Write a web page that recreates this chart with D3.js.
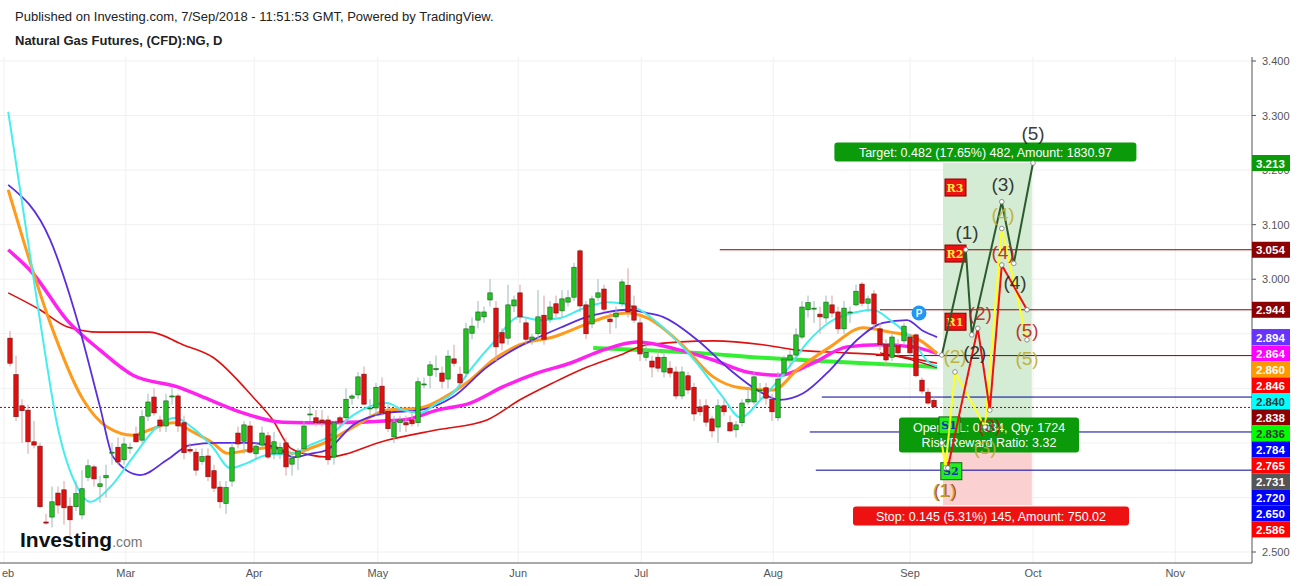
<!DOCTYPE html>
<html><head><meta charset="utf-8">
<script src="https://cdn.jsdelivr.net/npm/d3@7"></script>
<style>body{margin:0;background:#fff;font-family:Arial,"Liberation Sans",sans-serif}</style>
</head><body><svg id="c" width="1299" height="586"></svg>
<script>
// ---------- DATA ----------
const monthTicks=[["eb",-1],["Mar",19.3],["Apr",40.7],["May",61.3],["Jun",84.7],["Jul",105.2],["Aug",127.2],["Sep",150],["Oct",170.5],["Nov",194.2]];
const priceTicks=[2.5,2.6,2.7,2.8,2.9,3.0,3.1,3.2,3.3,3.4];
// [open, high, low, close] per trading day
const candles=[[2.892,2.905,2.84,2.846],[2.825,2.86,2.74,2.748],[2.768,2.78,2.70,2.759],[2.760,2.77,2.68,2.702],[2.702,2.74,2.69,2.696],[2.694,2.70,2.58,2.583],[2.555,2.57,2.55,2.553],[2.564,2.62,2.545,2.592],[2.608,2.62,2.57,2.586],[2.614,2.63,2.55,2.581],
[2.584,2.60,2.53,2.559],[2.583,2.63,2.575,2.607],[2.568,2.65,2.56,2.616],[2.637,2.67,2.63,2.658],[2.656,2.66,2.62,2.634],[2.620,2.64,2.59,2.625],[2.636,2.66,2.60,2.640],[2.683,2.70,2.66,2.683],[2.692,2.71,2.66,2.665],[2.669,2.71,2.66,2.698],
[2.692,2.70,2.68,2.692],[2.716,2.73,2.70,2.702],[2.705,2.76,2.70,2.748],[2.749,2.79,2.74,2.775],[2.784,2.80,2.75,2.755],[2.742,2.75,2.72,2.731],[2.731,2.79,2.72,2.777],[2.786,2.80,2.77,2.786],[2.786,2.79,2.72,2.731],[2.737,2.75,2.67,2.682],
[2.688,2.70,2.68,2.685],[2.683,2.69,2.64,2.650],[2.666,2.69,2.66,2.675],[2.676,2.69,2.63,2.638],[2.649,2.66,2.61,2.617],[2.619,2.63,2.58,2.592],[2.589,2.63,2.57,2.618],[2.630,2.70,2.62,2.691],[2.718,2.73,2.69,2.698],[2.703,2.74,2.68,2.733],
[2.731,2.74,2.68,2.683],[2.680,2.70,2.67,2.694],[2.696,2.73,2.69,2.718],[2.713,2.72,2.67,2.674],[2.680,2.72,2.67,2.702],[2.680,2.70,2.67,2.692],[2.700,2.71,2.64,2.656],[2.661,2.68,2.64,2.672],[2.674,2.69,2.65,2.685],[2.689,2.74,2.68,2.731],
[2.753,2.77,2.74,2.753],[2.746,2.76,2.73,2.737],[2.742,2.76,2.73,2.737],[2.742,2.75,2.66,2.669],[2.674,2.74,2.66,2.737],[2.746,2.75,2.73,2.738],[2.746,2.80,2.74,2.780],[2.782,2.79,2.77,2.786],[2.788,2.83,2.78,2.821],[2.826,2.84,2.77,2.771],
[2.764,2.78,2.75,2.764],[2.764,2.81,2.75,2.802],[2.804,2.82,2.75,2.755],[2.758,2.77,2.72,2.726],[2.711,2.75,2.70,2.737],[2.737,2.75,2.72,2.742],[2.737,2.75,2.72,2.733],[2.742,2.76,2.73,2.735],[2.737,2.82,2.73,2.812],[2.808,2.82,2.80,2.808],
[2.824,2.85,2.80,2.843],[2.834,2.86,2.82,2.836],[2.828,2.84,2.80,2.813],[2.817,2.87,2.80,2.859],[2.854,2.88,2.84,2.846],[2.826,2.84,2.80,2.810],[2.828,2.92,2.82,2.909],[2.901,2.93,2.89,2.914],[2.925,2.96,2.91,2.940],[2.931,2.95,2.92,2.940],
[2.962,3.00,2.95,2.975],[2.947,2.96,2.85,2.876],[2.902,2.91,2.87,2.883],[2.892,2.99,2.88,2.953],[2.951,2.97,2.94,2.962],[2.975,2.99,2.92,2.931],[2.920,2.93,2.88,2.890],[2.889,2.90,2.88,2.894],[2.900,2.98,2.89,2.931],[2.934,2.97,2.88,2.890],
[2.927,2.96,2.92,2.949],[2.955,2.97,2.93,2.938],[2.942,2.98,2.93,2.964],[2.958,2.98,2.95,2.966],[2.967,3.03,2.96,3.022],[3.052,3.055,2.94,2.951],[2.953,2.96,2.89,2.900],[2.918,2.97,2.91,2.964],[2.967,3.00,2.96,2.975],[2.982,2.99,2.94,2.945],
[2.927,2.94,2.90,2.922],[2.931,2.95,2.91,2.938],[2.955,3.00,2.95,2.995],[2.989,3.02,2.93,2.940],[2.951,2.97,2.92,2.925],[2.920,2.93,2.85,2.863],[2.857,2.88,2.85,2.866],[2.850,2.86,2.82,2.839],[2.857,2.87,2.83,2.837],[2.830,2.87,2.82,2.857],
[2.837,2.85,2.82,2.828],[2.830,2.84,2.78,2.786],[2.786,2.84,2.78,2.830],[2.823,2.83,2.79,2.797],[2.802,2.81,2.74,2.753],[2.766,2.78,2.75,2.757],[2.768,2.78,2.73,2.738],[2.744,2.75,2.71,2.722],[2.729,2.78,2.70,2.768],[2.768,2.78,2.75,2.757],
[2.737,2.75,2.72,2.722],[2.724,2.74,2.71,2.733],[2.737,2.78,2.73,2.773],[2.775,2.80,2.77,2.780],[2.775,2.83,2.77,2.821],[2.797,2.81,2.78,2.797],[2.801,2.81,2.77,2.782],[2.780,2.79,2.74,2.757],[2.746,2.83,2.74,2.817],[2.828,2.86,2.82,2.854],
[2.852,2.87,2.84,2.861],[2.861,2.91,2.85,2.898],[2.894,2.96,2.89,2.949],[2.944,2.97,2.93,2.957],[2.947,2.96,2.92,2.947],[2.936,2.95,2.90,2.931],[2.929,2.97,2.92,2.958],[2.953,2.97,2.93,2.938],[2.940,2.95,2.90,2.909],[2.909,2.96,2.90,2.947],
[2.940,2.95,2.92,2.940],[2.953,2.99,2.95,2.978],[2.991,2.995,2.95,2.956],[2.956,2.97,2.94,2.964],[2.973,2.98,2.91,2.918],[2.909,2.92,2.87,2.880],[2.880,2.89,2.84,2.852],[2.857,2.90,2.85,2.894],[2.878,2.89,2.86,2.865],[2.887,2.92,2.88,2.914],
[2.894,2.90,2.86,2.865],[2.898,2.90,2.82,2.823],[2.815,2.82,2.79,2.795],[2.793,2.80,2.77,2.773],[2.778,2.785,2.765,2.766]];
// moving averages: [day index, value]
const maCyan=[[-0.3,3.307],[3.8,3.011],[5.5,2.889],[7.8,2.737],[11.2,2.619],[13.3,2.592],[16.7,2.619],[20.5,2.674],[24.5,2.729],[27.5,2.746],[30.5,2.727],[33.8,2.692],[36.7,2.654],[39.5,2.663],[42.8,2.678],[47.2,2.681],[50,2.696],[52.8,2.709],[57.2,2.751],[62.8,2.773],[65.5,2.760],[68.3,2.755],[71.2,2.773],[73.8,2.791],[76.7,2.834],[80.5,2.883],[85,2.931],[88.3,2.925],[91.7,2.929],[95,2.944],[97.2,2.953],[99.5,2.958],[101.7,2.956],[105,2.944],[108.8,2.912],[114.5,2.846],[118.8,2.784],[121.7,2.747],[125.5,2.784],[129.5,2.834],[132.8,2.883],[136.7,2.922],[141.2,2.940],[143.8,2.944],[146.7,2.925],[150,2.894],[153.3,2.846],[154.5,2.840]];
const maPurple=[[-0.3,3.173],[6.7,3.072],[11.2,2.925],[15,2.766],[17.2,2.674],[21.7,2.641],[26.2,2.669],[30,2.696],[34.5,2.700],[40,2.700],[44.5,2.691],[47.2,2.674],[50,2.680],[52.8,2.687],[57.2,2.733],[62.8,2.755],[68.3,2.760],[73.8,2.784],[79.5,2.839],[83.8,2.870],[87.2,2.889],[91.7,2.911],[96.2,2.931],[98.8,2.938],[102.8,2.944],[106.2,2.938],[108.8,2.931],[114.5,2.889],[120,2.834],[124.5,2.797],[128.3,2.779],[132.2,2.791],[136.7,2.834],[141.2,2.889],[145.5,2.920],[149.5,2.925],[152.2,2.905],[154.5,2.894]];
const maOrange=[[-0.3,3.164],[2.2,3.072],[6.7,2.920],[12.2,2.779],[16.2,2.729],[20.5,2.714],[23.3,2.724],[27.2,2.737],[30.5,2.720],[33.8,2.700],[36.2,2.681],[40,2.687],[43.8,2.692],[47.2,2.681],[50.5,2.692],[52.8,2.702],[57.2,2.729],[62.8,2.760],[68.3,2.764],[73.8,2.793],[76.7,2.815],[80.5,2.852],[85,2.880],[90.5,2.894],[95,2.913],[98.8,2.929],[102.8,2.938],[106.2,2.929],[111.7,2.883],[117.2,2.821],[121.7,2.801],[127.2,2.797],[131.2,2.834],[136.7,2.876],[142.2,2.911],[146.7,2.903],[150.5,2.895],[154.5,2.864]];
const maMagenta=[[-0.3,3.054],[3.8,3.011],[9.5,2.925],[15,2.870],[20.5,2.824],[27.8,2.803],[33.3,2.779],[38.3,2.757],[45.5,2.738],[52.8,2.737],[65.5,2.742],[71.2,2.760],[76.7,2.773],[82.2,2.803],[87.8,2.828],[93.3,2.846],[98.8,2.870],[104.5,2.885],[111.7,2.870],[117.2,2.852],[122.8,2.830],[128.3,2.824],[133.8,2.846],[139.5,2.876],[145,2.880],[150.5,2.876],[154.5,2.864]];
const maRed=[[-0.3,2.975],[5,2.944],[9.5,2.913],[15,2.903],[23.3,2.903],[28.8,2.880],[33.8,2.857],[40.5,2.784],[43.8,2.742],[46.7,2.691],[50,2.678],[52.8,2.674],[62.8,2.705],[71.2,2.724],[79.5,2.742],[85,2.779],[90.5,2.810],[96.2,2.839],[101.7,2.861],[106.2,2.880],[117.2,2.887],[125.5,2.880],[131.2,2.870],[139.5,2.865],[147.8,2.859],[154.5,2.846]];
const maDarkRed=[[145,2.865],[150,2.853],[154.5,2.838]];
const maGreen=[[97.2,2.874],[106.2,2.870],[114.5,2.865],[125.5,2.856],[136.7,2.849],[147.8,2.843],[154.5,2.839]];
// horizontal levels: [value, start index, colour]
const levels=[[3.054,118.3,"#8b0000"],[2.944,145,"#8b0000"],[2.860,144.3,"#8b0000"],[2.784,135.3,"#0000a0"],[2.720,133.3,"#0000a0"],[2.650,134.3,"#0000a0"]];
const lastPrice=2.765;
// price axis labels: [value, background, text colour]
const axisLabels=[[3.213,"#0a9a0a","#fff"],[3.054,"#8b0000","#fff"],[2.944,"#8b0000","#fff"],[2.894,"#6633ff","#fff"],[2.864,"#ff00ff","#fff"],[2.860,"#ff9900","#fff"],[2.846,"#ff0000","#fff"],[2.840,"#00ffff","#333"],[2.838,"#8b0000","#fff"],[2.836,"#00ff00","#333"],[2.784,"#0000ff","#fff"],[2.765,"#ff0000","#fff"],[2.731,"#555555","#fff"],[2.720,"#0000ff","#fff"],[2.650,"#0000ff","#fff"],[2.586,"#ff0000","#fff"]];
// trade
const trade={start:155.5,end:170.3,open:2.731,target:3.213,stop:2.586};
// pivots [label, index, value, kind]
const pivots=[["R3",157.5,3.169,"r"],["R2",157.5,3.048,"r"],["R1",157.5,2.923,"r"],["S1",156.5,2.733,"s"],["S2",156.8,2.649,"s"]];
const pivotP=[151.5,2.938];
// Elliott waves
const waveBlack=[[155.3,2.861],[159.3,3.054],[160.3,2.898],[165.3,3.142],[167.3,3.029],[170.5,3.213]];
const waveRed=[[156.3,2.654],[161.3,2.910],[163.3,2.760],[165.3,3.026],[169.5,2.944]];
const waveYellow=[[155.3,2.700],[155.9,2.654],[157.5,2.830],[162.5,2.729],[165.3,3.093],[169.5,2.889]];
const labBlack=[["(1)",159.5,3.087],["(2)",160.8,2.867],["(3)",165.5,3.175],["(4)",167.5,2.995],["(5)",170.5,3.268]];
const labRed=[["(1)",155.9,2.614],["(2)",161.7,2.938],["(3)",163.3,2.733],["(4)",165.5,3.050],["(5)",169.5,2.907]];
const labYellow=[["(1)",155.7,2.614],["(2)",157.5,2.859],["(3)",162.5,2.693],["(4)",165.5,3.120],["(5)",169.5,2.856]];

// ---------- DRAW ----------
const svg=d3.select("#c");
const L=0,R=1252,T=57,B=563;
const x=d3.scaleLinear().domain([0,154]).range([10,934]);
const y=d3.scaleLinear().domain([2.5,3.4]).range([552,61]);
svg.append("clipPath").attr("id","cl").append("rect").attr("x",L).attr("y",T).attr("width",R-L).attr("height",B-T);
const g=svg.append("g").attr("clip-path","url(#cl)");
g.selectAll(".hg").data(priceTicks).join("line").attr("x1",L).attr("x2",R).attr("y1",d=>y(d)).attr("y2",d=>y(d)).attr("stroke","#f0f0f0");
g.selectAll(".vg").data(monthTicks).join("line").attr("x1",d=>x(d[1])).attr("x2",d=>x(d[1])).attr("y1",T).attr("y2",B).attr("stroke","#f0f0f0");
g.append("rect").attr("x",x(trade.start)).attr("width",x(trade.end)-x(trade.start)).attr("y",y(trade.target)).attr("height",y(trade.open)-y(trade.target)).attr("fill","#d3ecd3");
g.append("rect").attr("x",x(trade.start)).attr("width",x(trade.end)-x(trade.start)).attr("y",y(trade.open)).attr("height",y(trade.stop)-y(trade.open)).attr("fill","#fbd0d0");
g.selectAll(".lv").data(levels).join("line").attr("x1",d=>x(d[1])).attr("x2",R).attr("y1",d=>y(d[0])).attr("y2",d=>y(d[0])).attr("stroke",d=>d[2]).attr("stroke-width",1);
g.append("line").attr("x1",L).attr("x2",R).attr("y1",y(lastPrice)).attr("y2",y(lastPrice)).attr("stroke","#a00").attr("stroke-dasharray","2,2");
const line=d3.line().x(d=>x(d[0])).y(d=>y(d[1])).curve(d3.curveMonotoneX);
[[maGreen,"#33ee33",4],[maRed,"#e01010",1.6],[maDarkRed,"#b01010",1.2],[maMagenta,"#ff22ee",3.5],[maOrange,"#ff9a1a",3],[maPurple,"#5a2ee0",1.8],[maCyan,"#44eeee",2]].forEach(([d,c,w])=>{
  g.append("path").attr("d",line(d)).attr("fill","none").attr("stroke",c).attr("stroke-width",w);
});
const cg=g.append("g");
candles.forEach((c,i)=>{
  const up=c[3]>=c[0];
  cg.append("line").attr("x1",x(i)).attr("x2",x(i)).attr("y1",y(c[1])).attr("y2",y(c[2])).attr("stroke",up?"#9ab8b8":"#d9a0a0").attr("stroke-width",1);
  const top=y(Math.max(c[0],c[3])),bot=y(Math.min(c[0],c[3]));
  cg.append("rect").attr("x",x(i)-2.2).attr("width",4.4).attr("y",top).attr("height",Math.max(1,bot-top))
    .attr("fill",up?"#22c322":"#e01010").attr("stroke",up?"#175a17":"#6a1010").attr("stroke-width",0.6);
});
g.append("circle").attr("cx",x(pivotP[0])).attr("cy",y(pivotP[1])).attr("r",7.5).attr("fill","#2196f3");
g.append("text").attr("x",x(pivotP[0])).attr("y",y(pivotP[1])+4).attr("text-anchor","middle").attr("fill","#fff").attr("font-size",10).attr("font-weight","bold").text("P");
function box(cx,cy,w,h,fill,lines){
  g.append("rect").attr("x",cx-w/2).attr("y",cy-h/2).attr("width",w).attr("height",h).attr("rx",3).attr("fill",fill);
  lines.forEach((t,k)=>g.append("text").attr("x",cx).attr("y",cy-h/2+14+k*15).attr("text-anchor","middle").attr("fill","#fff").attr("font-size",12.5).text(t));
}
box(x((trade.start+trade.end)/2)-2,y(trade.target)-11,302,19,"#0a9a0a",["Target: 0.482 (17.65%) 482, Amount: 1830.97"]);
box(989,435,180,35,"#0a9a0a",["Open P/L: 0.034, Qty: 1724","Risk/Reward Ratio: 3.32"]);
box(991,y(trade.stop)+11,276,19,"#ee1111",["Stop: 0.145 (5.31%) 145, Amount: 750.02"]);
pivots.forEach(p=>{
  const cx=x(p[1]),cy=y(p[2]);
  g.append("rect").attr("x",cx-10).attr("y",cy-8).attr("width",21).attr("height",17).attr("fill",p[3]=="r"?"#ee1111":"#22ee22").attr("stroke",p[3]=="r"?"#880000":"#116611");
  g.append("text").attr("x",cx).attr("y",cy+4.5).attr("text-anchor","middle").attr("font-family","DejaVu Serif,serif").attr("font-weight","bold").attr("font-size",11)
    .attr("fill",p[3]=="r"?"#ffee44":"#1133aa").text(p[0]);
});
const wl=d3.line().x(d=>x(d[0])).y(d=>y(d[1]));
[[waveBlack,"#2d5a2d"],[waveYellow,"#ffff22"],[waveRed,"#ee1111"]].forEach(([d,c])=>{
  g.append("path").attr("d",wl(d)).attr("fill","none").attr("stroke",c).attr("stroke-width",2);
  g.selectAll(null).data(d).join("circle").attr("cx",p=>x(p[0])).attr("cy",p=>y(p[1])).attr("r",2.3).attr("fill","#fff").attr("stroke","#777").attr("stroke-width",0.8);
});
[[labRed,"#b82020"],[labYellow,"#bdaa30"],[labBlack,"#222"]].forEach(([d,c])=>{
  d.forEach(l=>g.append("text").attr("x",x(l[1])).attr("y",y(l[2])+7).attr("text-anchor","middle").attr("font-size",19).attr("fill",c).attr("fill-opacity",0.9).text(l[0]));
});
svg.append("line").attr("x1",R).attr("x2",R).attr("y1",T).attr("y2",B).attr("stroke","#555");
svg.append("line").attr("x1",L).attr("x2",R).attr("y1",B).attr("y2",B).attr("stroke","#555");
priceTicks.forEach(v=>{
  svg.append("line").attr("x1",R).attr("x2",R+4).attr("y1",y(v)).attr("y2",y(v)).attr("stroke","#555");
  svg.append("text").attr("x",R+10).attr("y",y(v)+4).attr("font-size",11).attr("fill","#555").text(v.toFixed(3));
});
monthTicks.forEach(m=>{
  svg.append("text").attr("x",Math.max(x(m[1]),8)).attr("y",B+14).attr("text-anchor","middle").attr("font-size",11).attr("fill","#555").text(m[0]);
});
let prev=-1e9;
axisLabels.forEach(a=>{
  const yy=Math.max(y(a[0]),prev+16);prev=yy;
  svg.append("rect").attr("x",R).attr("y",yy-8).attr("width",38).attr("height",16).attr("fill",a[1]);
  svg.append("text").attr("x",R+4).attr("y",yy+4.5).attr("font-size",11.5).attr("font-weight","bold").attr("fill",a[2]).text(a[0].toFixed(3));
});
svg.append("text").attr("x",15).attr("y",21).attr("font-size",13).attr("fill","#222").text("Published on Investing.com, 7/Sep/2018 - 11:51:53 GMT, Powered by TradingView.");
svg.append("text").attr("x",15).attr("y",45).attr("font-size",13).attr("font-weight","bold").attr("fill","#222").text("Natural Gas Futures, (CFD):NG, D");
const logo=svg.append("text").attr("x",20).attr("y",547);
logo.append("tspan").attr("font-size",21).attr("font-weight","bold").attr("fill","#111").text("Investing");
logo.append("tspan").attr("font-size",14).attr("fill","#777").text(".com");
</script></body></html>
